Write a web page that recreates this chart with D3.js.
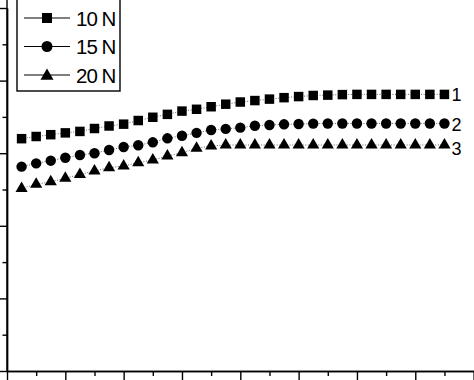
<!DOCTYPE html>
<html>
<body style="margin: 0; background: #fff">
  <script src="https://d3js.org/d3.v7.min.js"></script>

  <script>
    const WIDTH = 474;
    const HEIGHT = 380;

    // x positions of the measurements (0.25 steps)
    const xValues = [0.25, 0.5, 0.75, 1, 1.25, 1.5, 1.75, 2, 2.25, 2.5,
      2.75, 3, 3.25, 3.5, 3.75, 4, 4.25, 4.5, 4.75, 5,
      5.25, 5.5, 5.75, 6, 6.25, 6.5, 6.75, 7, 7.25, 7.5];

    const series10N = [3.20, 3.23, 3.255, 3.28, 3.30, 3.34, 3.375, 3.40, 3.45, 3.495,
      3.535, 3.58, 3.605, 3.64, 3.675, 3.705, 3.725, 3.745, 3.765, 3.78,
      3.795, 3.80, 3.807, 3.81, 3.81, 3.81, 3.81, 3.81, 3.81, 3.81];

    const series15N = [2.815, 2.86, 2.897, 2.938, 2.975, 3.00, 3.044, 3.085, 3.11, 3.15,
      3.205, 3.24, 3.28, 3.32, 3.335, 3.352, 3.378, 3.388, 3.398, 3.402,
      3.408, 3.409, 3.409, 3.409, 3.409, 3.409, 3.409, 3.409, 3.409, 3.409];

    const series20N = [2.515, 2.572, 2.607, 2.654, 2.708, 2.755, 2.80, 2.825, 2.869, 2.906,
      2.96, 3.007, 3.067, 3.10, 3.113, 3.113, 3.113, 3.113, 3.113, 3.113,
      3.113, 3.113, 3.113, 3.113, 3.113, 3.113, 3.113, 3.113, 3.113, 3.113];

    const seriesNames = ["10 N", "15 N", "20 N"];
    const curveLabels = ["1", "2", "3"];

    const xMajorTicks = [0, 1, 2, 3, 4, 5, 6, 7, 8];
    const xMinorTicks = [0.5, 1.5, 2.5, 3.5, 4.5, 5.5, 6.5, 7.5];
    const yMajorTicks = [0, 1, 2, 3, 4, 5];
    const yMinorTicks = [0.5, 1.5, 2.5, 3.5, 4.5];

    const start = () => {
      const svg = d3.select("body").append("svg")
        .attr("width", WIDTH)
        .attr("height", HEIGHT)
        .style("display", "block")
        .style("font-family", "'Liberation Sans', Arial, sans-serif");

      const x = d3.scaleLinear().domain([0, 8]).range([7, 473.6]);
      const y = d3.scaleLinear().domain([0, 5]).range([371, 8]);

      const symbols = [d3.symbolSquare, d3.symbolCircle, d3.symbolTriangle];
      const sizes = [90, 85, 64];
      const allSeries = [series10N, series15N, series20N];

      // axes
      const styleAxis = (g) => {
        g.select(".domain").attr("stroke", "#000").attr("stroke-width", 1.4);
        g.selectAll(".tick line").attr("stroke", "#000").attr("stroke-width", 1.4);
      };

      svg.append("g")
        .attr("transform", `translate(0,${y(0)})`)
        .call(d3.axisBottom(x).tickValues(xMajorTicks).tickSize(9).tickSizeOuter(0).tickFormat(""))
        .call(styleAxis);
      svg.append("g")
        .attr("transform", `translate(0,${y(0)})`)
        .call(d3.axisBottom(x).tickValues(xMinorTicks).tickSize(5).tickSizeOuter(0).tickFormat(""))
        .call(styleAxis);

      svg.append("g")
        .attr("transform", `translate(${x(0)},0)`)
        .call(d3.axisLeft(y).tickValues(yMajorTicks).tickSize(8).tickSizeOuter(0).tickFormat(""))
        .call(styleAxis);
      svg.append("g")
        .attr("transform", `translate(${x(0)},0)`)
        .call(d3.axisLeft(y).tickValues(yMinorTicks).tickSize(4.5).tickSizeOuter(0).tickFormat(""))
        .call(styleAxis);

      // extend left axis to the top edge
      svg.append("line")
        .attr("x1", x(0)).attr("x2", x(0))
        .attr("y1", 0).attr("y2", y(0))
        .attr("stroke", "#000").attr("stroke-width", 1.4);

      // series
      const line = d3.line()
        .x((d, i) => x(xValues[i]))
        .y((d) => y(d));

      allSeries.forEach((values, s) => {
        svg.append("path")
          .datum(values)
          .attr("d", line)
          .attr("fill", "none")
          .attr("stroke", "#666")
          .attr("stroke-width", 1)
          .attr("stroke-dasharray", "1,1.6");

        svg.append("g").selectAll("path")
          .data(values)
          .enter()
          .append("path")
          .attr("transform", (d, i) => `translate(${x(xValues[i])},${y(d)})`)
          .attr("d", d3.symbol().type(symbols[s]).size(sizes[s]))
          .attr("fill", "#000");

        const last = values[values.length - 1];
        svg.append("text")
          .attr("x", x(xValues[xValues.length - 1]) + 7)
          .attr("y", y(last) + (s === 2 ? 10 : 7))
          .attr("font-size", 18)
          .attr("fill", "#000")
          .text(curveLabels[s]);
      });

      // legend
      const legend = svg.append("g");
      legend.append("rect")
        .attr("x", 17)
        .attr("y", -10)
        .attr("width", 103)
        .attr("height", 101)
        .attr("fill", "#fff")
        .attr("stroke", "#000")
        .attr("stroke-width", 1.4);

      seriesNames.forEach((name, s) => {
        const ly = 18 + s * 28.5;
        legend.append("line")
          .attr("x1", 24).attr("x2", 70)
          .attr("y1", ly).attr("y2", ly)
          .attr("stroke", "#000")
          .attr("stroke-width", 1);
        legend.append("path")
          .attr("transform", `translate(47,${ly + (s === 2 ? 1 : 0)})`)
          .attr("d", d3.symbol().type(symbols[s]).size(sizes[s] + 10))
          .attr("fill", "#000");
        legend.append("text")
          .attr("x", 76)
          .attr("y", ly + 7.5)
          .attr("font-size", 20.5)
          .attr("letter-spacing", -1)
          .attr("fill", "#000")
          .text(name);
      });
    };

    document.addEventListener("DOMContentLoaded", () => {
      start();
    }, false);
  </script>
</body>
</html>
